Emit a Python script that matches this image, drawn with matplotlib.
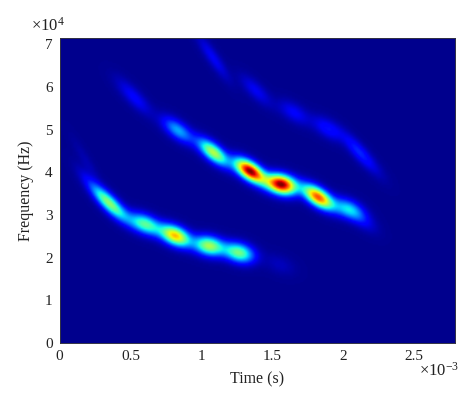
#!/usr/bin/env python3
"""Time-frequency energy map with three descending ridges, saved to out.png."""

import matplotlib
matplotlib.use("Agg")
import matplotlib.pyplot as plt
import numpy as np

# Energy blobs: time in ms, frequency in 1e4 Hz,
# peak level 0-1, local ridge slope.
LOW_TIME = [0.19, 0.23, 0.34, 0.44, 0.60, 0.81, 1.05, 1.26, 1.55]
LOW_FREQ = [4.21, 3.65, 3.30, 3.00, 2.78, 2.51, 2.27, 2.11, 1.83]
LOW_PEAK = [0.03, 0.10, 0.44, 0.14, 0.44, 0.70, 0.54, 0.48, 0.04]
LOW_SLOPE = [-5.0, -3.5, -2.6, -1.8, -1.0, -1.0, -0.5, -0.6, -0.9]

MID_TIME = [0.47, 0.54, 0.83, 1.08, 1.34, 1.56, 1.82, 2.03, 2.12]
MID_FREQ = [5.97, 5.69, 4.99, 4.47, 4.03, 3.72, 3.42, 3.14, 2.93]
MID_PEAK = [0.04, 0.08, 0.28, 0.56, 1.00, 1.00, 0.82, 0.30, 0.10]
MID_SLOPE = [-2.5, -2.5, -1.8, -2.0, -1.6, -0.6, -1.6, -1.0, -2.0]

TOP_TIME = [1.04, 1.09, 1.38, 1.65, 1.89, 2.10, 2.20]
TOP_FREQ = [6.91, 6.63, 5.93, 5.41, 5.03, 4.52, 4.17]
TOP_PEAK = [0.03, 0.07, 0.09, 0.10, 0.12, 0.13, 0.04]
TOP_SLOPE = [-4.0, -4.0, -2.5, -1.5, -1.5, -3.0, -3.0]

X_TICKS = [0, 0.5, 1, 1.5, 2, 2.5]
Y_TICKS = [0, 1, 2, 3, 4, 5, 6, 7]
X_MAX = 2.79
Y_MAX = 7.15

WIDTH_T = 0.072
WIDTH_F = 0.155

plt.rcParams["font.family"] = ["Liberation Serif", "DejaVu Serif"]
plt.rcParams["mathtext.fontset"] = "stix"
plt.rcParams["mathtext.default"] = "regular"


def energy_map(tt, ff):
    z = np.zeros_like(tt)
    ridges = [
        (LOW_TIME, LOW_FREQ, LOW_PEAK, LOW_SLOPE),
        (MID_TIME, MID_FREQ, MID_PEAK, MID_SLOPE),
        (TOP_TIME, TOP_FREQ, TOP_PEAK, TOP_SLOPE),
    ]
    for times, freqs, peaks, slopes in ridges:
        for t0, f0, peak, slope in zip(times, freqs, peaks, slopes):
            dt = tt - t0
            df = ff - f0 - slope * dt
            z += peak * np.exp(-0.5 * ((dt / WIDTH_T) ** 2 + (df / WIDTH_F) ** 2))
    return z


t = np.linspace(0, X_MAX, 280)
f = np.linspace(0, Y_MAX, 220)
tt, ff = np.meshgrid(t, f)

fig = plt.figure(figsize=(4.74, 4.03), dpi=100)
ax = fig.add_axes([59.5 / 474, 1 - 343 / 403, 395.5 / 474, 305 / 403])
ax.imshow(energy_map(tt, ff), origin="lower", aspect="auto", cmap="jet",
          vmin=-0.015, vmax=1, extent=[0, X_MAX, 0, Y_MAX], interpolation="bilinear")

ax.set_xticks(X_TICKS)
ax.set_xticklabels(["0", "0.5", "1", "1.5", "2", "2.5"])
ax.set_yticks(Y_TICKS)
ax.tick_params(length=0, labelsize=11, colors="#222222", pad=5)
ax.set_xlabel("Time (s)", fontsize=11.4, color="#222222", labelpad=6)
ax.set_ylabel("Frequency (Hz)", fontsize=11.4, color="#222222", labelpad=8)
for spine in ax.spines.values():
    spine.set_linewidth(0.7)
    spine.set_color("#333344")

fig.text(31 / 474, 1 - 26 / 403, "×10$^{4}$", fontsize=12, color="#222222", va="center")
fig.text(419 / 474, 1 - 371 / 403, "×10$^{-3}$", fontsize=12, color="#222222", va="center")

fig.savefig("out.png", dpi=100)
